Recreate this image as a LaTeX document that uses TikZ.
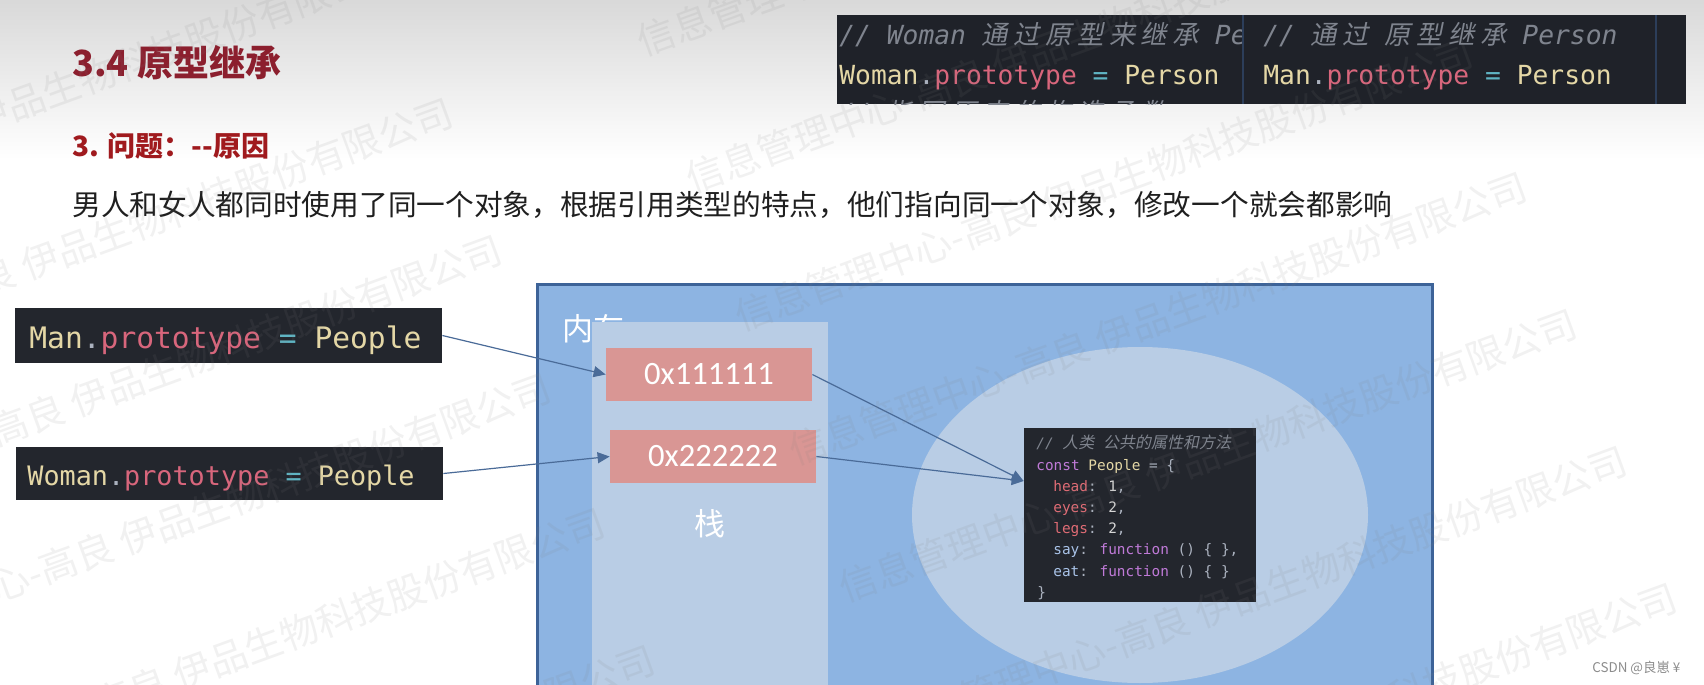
\documentclass[tikz,border=0pt]{standalone}
\usepackage{fontspec}
\setmainfont{Noto Sans CJK SC}
\newfontfamily\code{DejaVu Sans Mono}
\newfontfamily\cjkcode[FakeSlant=0.2,LetterSpace=21]{Noto Sans CJK SC}
\newfontfamily\cjkslant[FakeSlant=0.2]{Noto Sans CJK SC}
\newfontfamily\addrfont{Carlito}
\usetikzlibrary{arrows.meta}

\definecolor{titlered}{HTML}{8C1F2E}
\definecolor{subred}{HTML}{A01A1E}
\definecolor{memblue}{HTML}{8DB4E2}
\definecolor{memedge}{HTML}{3D6398}
\definecolor{stackblue}{HTML}{B9CDE5}
\definecolor{addrred}{HTML}{D99694}
\definecolor{codebg}{HTML}{23262D}
\definecolor{panelbg}{HTML}{1F2229}
\definecolor{paneledge}{HTML}{2C3E5A}
\definecolor{arrowc}{HTML}{4A6B98}
\definecolor{cident}{HTML}{E4D7A6}
\definecolor{cprop}{HTML}{D8667C}
\definecolor{cop}{HTML}{5FB4C3}
\definecolor{cpunc}{HTML}{ABB2BF}
\definecolor{ccomment}{HTML}{7F848E}
\definecolor{ckey}{HTML}{C07AD8}
\definecolor{cfield}{HTML}{E06C75}
\definecolor{cnum}{HTML}{D6D6D6}
\definecolor{cmeth}{HTML}{A9C3E8}

\newcommand{\ck}[2]{\textcolor{#1}{#2}}
\newcommand{\cmt}[1]{{\itshape\color{ccomment}#1}}
\newcommand{\cjkcmt}[1]{{\cjkcode\color{ccomment}#1}}

\begin{document}
\begin{tikzpicture}[x=0.5pt, y=-0.5pt,
  codebox/.style={fill=codebg, inner sep=0pt},
  addrbox/.style={fill=addrred, inner sep=0pt, minimum width=103pt, minimum height=26.5pt,
    text=white, font=\addrfont\fontsize{16.3}{18}\selectfont},
  ptr/.style={draw=arrowc, line width=0.6pt, -{Triangle[length=6pt,width=5.5pt]}},
  codeline/.style={anchor=base west, inner sep=0pt},
  wmark/.style={rotate=20, anchor=west, inner sep=0pt, text=black!50, opacity=0.11,
    font=\fontsize{19}{20}\selectfont}]

\useasboundingbox (0,0) rectangle (1704,685);
\fill[white] (0,0) rectangle (1704,685);
\shade[top color=black!15, bottom color=white] (0,0) rectangle (1704,160);

% heading and text
\node[codeline, text=titlered, font=\bfseries\fontsize{18}{20}\selectfont] (title) at (72,76) {3.4 原型继承};
\node[codeline, text=subred, font=\bfseries\fontsize{14}{16}\selectfont] (subtitle) at (72,156) {3. 问题：-{}-原因};
\node[codeline, text=black!88, font=\fontsize{14.35}{16}\selectfont] (desc) at (72,215)
  {男人和女人都同时使用了同一个对象，根据引用类型的特点，他们指向同一个对象，修改一个就会都影响};

% code panel top right
\fill[panelbg] (837,15) rectangle (1686,104);
\begin{scope}
  \clip (837,15) rectangle (1243,104);
  \node[codeline, font=\code\fontsize{13.15}{16}\selectfont] (wline1) at (839,45)
    {\cmt{// Woman\ }\cjkcmt{通过原型来继承}\cmt{\ Per}};
  \node[codeline, font=\code\fontsize{13.15}{16}\selectfont] (wline2) at (839,84)
    {\ck{cident}{Woman}\ck{cpunc}{.}\ck{cprop}{prototype} \ck{cop}{=} \ck{cident}{Person}};
  \node[codeline, font=\code\fontsize{13.15}{16}\selectfont] (wline3) at (839,122)
    {\cmt{//\ }\cjkcmt{指回原来的构造函数}};
\end{scope}
\begin{scope}
  \clip (1243,15) rectangle (1656,104);
  \node[codeline, font=\code\fontsize{13.15}{16}\selectfont] (mline1) at (1263,45)
    {\cmt{//\ }\cjkcmt{通过}\cmt{\ }\cjkcmt{原型继承}\cmt{\ Person}};
  \node[codeline, font=\code\fontsize{13.15}{16}\selectfont] (mline2) at (1263,84)
    {\ck{cident}{Man}\ck{cpunc}{.}\ck{cprop}{prototype} \ck{cop}{=} \ck{cident}{Person}};
\end{scope}
\draw[paneledge, line width=0.6pt] (1243,15) -- (1243,104);
\draw[paneledge, line width=0.6pt] (1656,15) -- (1656,104);

% memory
\draw[draw=memedge, fill=memblue, line width=1.5pt] (537,284) rectangle (1432,700);
\node[codeline, text=white, font=\fontsize{15.5}{17}\selectfont] (memlabel) at (562,340) {内存};
\fill[stackblue] (592,322) rectangle (828,700);
\fill[stackblue] (1140,515) ellipse [x radius=228, y radius=168];
\node[anchor=base, inner sep=0pt, text=white, font=\fontsize{15.5}{17}\selectfont] (stacklabel) at (710,535) {栈};

\node[addrbox] (addr1) at (709,374.5) {0x111111};
\node[addrbox] (addr2) at (713,456.5) {0x222222};

% code on the left
\node[codebox, minimum width=213.5pt, minimum height=27.5pt] (man) at (228.5,335.5) {};
\node[codeline, font=\code\fontsize{14.8}{17}\selectfont] (mantext) at (29,348)
  {\ck{cident}{Man}\ck{cpunc}{.}\ck{cprop}{prototype} \ck{cop}{=} \ck{cident}{People}};
\node[codebox, minimum width=213.5pt, minimum height=26.5pt] (woman) at (229.5,473.5) {};
\node[codeline, font=\code\fontsize{13.4}{16}\selectfont] (womantext) at (27,485)
  {\ck{cident}{Woman}\ck{cpunc}{.}\ck{cprop}{prototype} \ck{cop}{=} \ck{cident}{People}};

% object in the heap
\node[codebox, minimum width=116pt, minimum height=87pt] (people) at (1140,515) {};
\node[codeline, font=\code\fontsize{7.2}{9}\selectfont] (pl0) at (1036,448.5)
  {\cmt{//\ }{\cjkslant\fontsize{8}{9}\selectfont\color{ccomment}人类}\cmt{\ }{\cjkslant\fontsize{8}{9}\selectfont\color{ccomment}公共的属性和方法}};
\node[codeline, font=\code\fontsize{7.2}{9}\selectfont] (pl1) at (1036,470)
  {\ck{ckey}{const} \ck{cident}{People} \ck{cpunc}{= \{}};
\node[codeline, font=\code\fontsize{7.2}{9}\selectfont] (pl2) at (1053,491)
  {\ck{cfield}{head}\ck{cpunc}{:} \ck{cnum}{1}\ck{cpunc}{,}};
\node[codeline, font=\code\fontsize{7.2}{9}\selectfont] (pl3) at (1053,512)
  {\ck{cfield}{eyes}\ck{cpunc}{:} \ck{cnum}{2}\ck{cpunc}{,}};
\node[codeline, font=\code\fontsize{7.2}{9}\selectfont] (pl4) at (1053,533)
  {\ck{cfield}{legs}\ck{cpunc}{:} \ck{cnum}{2}\ck{cpunc}{,}};
\node[codeline, font=\code\fontsize{7.2}{9}\selectfont] (pl5) at (1053,554.5)
  {\ck{cmeth}{say}\ck{cpunc}{:} \ck{ckey}{function} \ck{cpunc}{() \{ \},}};
\node[codeline, font=\code\fontsize{7.2}{9}\selectfont] (pl6) at (1053,576)
  {\ck{cmeth}{eat}\ck{cpunc}{:} \ck{ckey}{function} \ck{cpunc}{() \{ \}}};
\node[codeline, font=\code\fontsize{7.2}{9}\selectfont] (pl7) at (1037,597.5)
  {\ck{cpunc}{\}}};

% pointers
\coordinate (heapin) at ([yshift=17pt]people.west);
\draw[ptr] (man.east) -- (addr1.west);
\draw[ptr] (woman.east) -- (addr2.west);
\draw[ptr] (addr1.east) -- (heapin);
\draw[ptr] (addr2.east) -- (heapin);

\node[codeline, text=black!45, font=\fontsize{6.7}{8}\selectfont] (csdn) at (1592,672) {CSDN @良崽 ¥};

% watermark
\foreach \c/\xk in {111/-28, 275/22, 430/71, 586/120, 740/174, 895/224, 1050/274, 1205/324} {
  \foreach \m in {0,1,2,3} {
    \pgfmathsetmacro\sx{\xk-306+922*(\m-1)}
    \pgfmathsetmacro\sy{\c-0.364*\sx}
    \node[wmark] (wm\c\m) at (\sx,\sy) {信息管理中心-高良 伊品生物科技股份有限公司};
  }
}

\end{tikzpicture}
\end{document}
